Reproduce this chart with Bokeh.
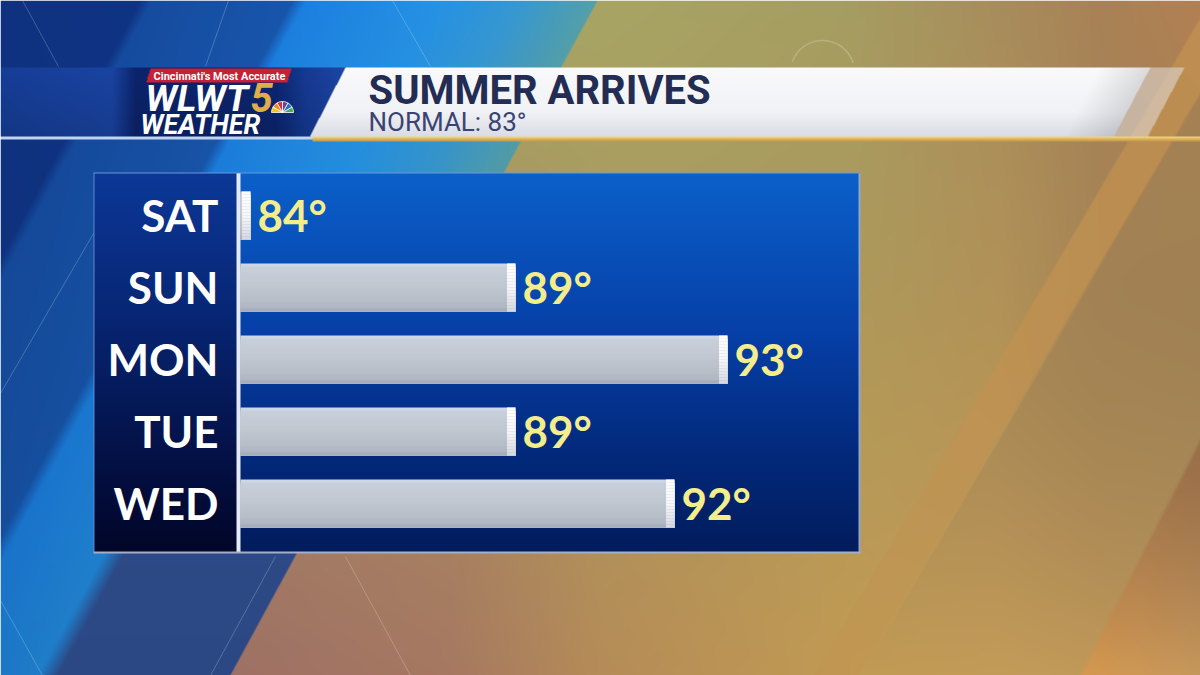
import numpy as np
from bokeh.plotting import figure
from bokeh.models import Range1d, ColumnDataSource
from bokeh.transform import dodge
from bokeh.core.properties import value
from bokeh.embed import file_html
from bokeh.resources import INLINE

# ---------------- data ----------------
days = ["SAT", "SUN", "MON", "TUE", "WED"]
highs = [84, 89, 93, 89, 92]
high_labels = ["84°", "89°", "93°", "89°", "92°"]
title = "SUMMER ARRIVES"
subtitle = "NORMAL: 83°"
tagline = "Cincinnati's Most Accurate"
brand = "WLWT"
channel = "5"
brand_sub = "WEATHER"

# ---------------- layout constants ----------------
W, H, OFF = 1200, 675, 0
REF_H = 675
BAR_BASE = 83.81          # temperature where the bar baseline sits
DEG_PX, REF_T, REF_PX = 53.0, 89.0, 515.0
ROW_PX, ROW0_PX = 72.0, 215.0


def t_of(px):
    return REF_T + (px - REF_PX) / DEG_PX


def r_of(py):
    return (py - ROW0_PX) / ROW_PX


def yd(py):
    return REF_H - py


# ---------------- background image ----------------
xs = np.arange(W) + OFF + 0.5
ys = np.arange(H) + OFF + 0.5
X, Y = np.meshgrid(xs, ys)


def stops_interp(v, stops):
    pos = np.array([s[0] for s in stops], float)
    cols = np.array([s[1] for s in stops], float)
    return np.stack([np.interp(v, pos, cols[:, c]) for c in range(3)], axis=-1)


S = X + 0.544 * Y
blue = stops_interp(S, [(-400, (14, 44, 118)), (140, (16, 52, 132)), (152, (22, 76, 160)),
                        (292, (24, 86, 172)), (306, (28, 128, 224)), (440, (38, 146, 228)),
                        (520, (55, 152, 210)), (597, (85, 160, 170))])
mute = np.clip((Y - 220) / 250, 0, 1) * np.clip((S - 405) / 20, 0, 1)
blue = blue * (1 - mute[..., None]) + np.array([50, 82, 150.0]) * mute[..., None]
blue *= (1 - 0.12 * Y / REF_H)[..., None]

gx = np.array([200, 450, 600, 850, 1000, 1100, 1200.0])
G = np.array([
    [(150, 175, 115), (152, 175, 112), (155, 175, 110), (150, 158, 105), (152, 125, 92), (152, 102, 80), (172, 100, 72)],
    [(150, 110, 110), (155, 128, 105), (160, 150, 98), (166, 150, 90), (174, 136, 84), (145, 106, 76), (136, 100, 72)],
    [(128, 66, 108), (148, 84, 100), (180, 124, 84), (206, 155, 78), (212, 158, 90), (204, 152, 90), (192, 152, 100)],
], float)
rowcols = [np.stack([np.interp(xs, gx, G[j, :, c]) for c in range(3)], -1) for j in range(3)]
wy = ys[:, None, None]
w1 = np.clip(wy / 300, 0, 1)
w2 = np.clip((wy - 300) / 375, 0, 1)
warm = np.where(wy < 300,
                rowcols[0][None] * (1 - w1) + rowcols[1][None] * w1,
                rowcols[1][None] * (1 - w2) + rowcols[2][None] * w2)
# diagonal light band with darker brown beyond it
A = np.array([1150.0, 140.0]); B = np.array([880.0, 600.0])
dvec = (B - A) / np.linalg.norm(B - A)
nvec = np.array([-dvec[1], dvec[0]])
dist = (X - A[0]) * nvec[0] + (Y - A[1]) * nvec[1]
beyond = np.clip((-dist - 20) / 2, 0, 1) * (0.6 * (1 - np.clip((Y - 380) / 300, 0, 1)))
warm = warm * (1 - beyond[..., None]) + np.array([136, 100, 74.0]) * beyond[..., None]
band = np.clip((20 - np.abs(dist)) / 2, 0, 1) * (0.75 - 0.35 * np.clip((Y - 300) / 300, 0, 1))
warm = warm * (1 - band[..., None]) + np.array([206, 136, 72.0]) * band[..., None]
# second band lower right
A2 = np.array([1200.0, 440.0]); B2 = np.array([1080.0, 675.0])
d2 = (B2 - A2) / np.linalg.norm(B2 - A2)
n2 = np.array([-d2[1], d2[0]])
dist2 = (X - A2[0]) * n2[0] + (Y - A2[1]) * n2[1]
g2 = np.clip(dist2 / 4 + 0.5, 0, 1) * 0.55
warm = warm * (1 - g2[..., None]) + np.array([172, 152, 102.0]) * g2[..., None]
# a touch more saturation
mean = warm.mean(axis=-1, keepdims=True)
warm = mean + 1.15 * (warm - mean)

wb = np.clip((S - 597) + 0.5, 0, 1)[..., None]
img = blue * (1 - wb) + warm * wb

# header: dark blue part
edge1 = 345 - (Y - 67) * 0.515
edge2 = 1150 - (Y - 67) * 0.53
inhdr = (Y >= 67) & (Y < 136.5)
hl = inhdr & (X < edge1)
hl_col = stops_interp(X, [(0, (22, 62, 152)), (112, (26, 68, 162)), (135, (12, 36, 108)),
                          (275, (12, 38, 112)), (305, (22, 58, 148)), (350, (30, 72, 168))])
hl_col *= (1 - 0.12 * np.clip((Y - 67) / 69, 0, 1))[..., None]
img[hl] = hl_col[hl]
# header: white part
hw = inhdr & (X >= edge1) & (X < edge2)
wcol = stops_interp(Y, [(67, (250, 250, 252)), (112, (241, 242, 246)), (136, (218, 221, 229))])
fade = np.clip((X - (edge2 - 50)) / 50, 0, 1)[..., None]
wcol = wcol * (1 - 0.12 * fade)
img[hw] = wcol[hw]
hs = inhdr & (X >= edge2) & (X < edge2 + 34)
img[hs] = img[hs] * 0.45 + np.array([225, 222, 222.0]) * 0.55
# red tagline banner
rr = (Y >= 68) & (Y < 82.5) & (X >= 150 - (Y - 68) * 0.3) & (X < 291 - (Y - 68) * 0.3)
img[rr] = np.array([200, 32, 52.0])
# lines under header
lb = (Y >= 136.5) & (Y < 139) & (X < 318 - (Y - 136) * 0.5)
img[lb] = np.array([192, 212, 242.0])
gl = (Y >= 136.5) & (Y < 141) & (X >= 312)
gcol = stops_interp(Y, [(136.5, (240, 212, 130)), (139, (218, 172, 82)), (141, (190, 150, 80))])
img[gl] = gcol[gl]

# chart panel
pl = (X >= 93) & (X < 236) & (Y >= 172) & (Y < 553)
plc = stops_interp(Y, [(172, (12, 56, 152)), (300, (8, 40, 120)), (450, (4, 18, 72)), (553, (2, 6, 40))])
img[pl] = plc[pl]
pr = (X >= 240) & (X < 860) & (Y >= 172) & (Y < 553)
prc = stops_interp(Y, [(172, (12, 96, 202)), (330, (6, 64, 168)), (450, (3, 42, 125)), (553, (2, 28, 92))])
img[pr] = prc[pr]
sep = (X >= 236) & (X < 240) & (Y >= 172) & (Y < 553)
img[sep] = np.array([228, 234, 246.0])
inpanel_y = (Y >= 172) & (Y < 553)
img[(X >= 93) & (X < 94.5) & inpanel_y] = np.array([95, 135, 205.0])
img[(X >= 858) & (X < 860) & inpanel_y] = np.array([145, 165, 205.0])
img[(Y >= 172) & (Y < 173.5) & (X >= 93) & (X < 860)] = np.array([105, 152, 222.0])
img[(Y >= 551) & (Y < 553) & (X >= 93) & (X < 860)] = np.array([165, 175, 200.0])

img = np.clip(img, 0, 255).astype(np.uint8)
rgba = np.empty((H, W), dtype=np.uint32)
view = rgba.view(dtype=np.uint8).reshape((H, W, 4))
view[..., :3] = img
view[..., 3] = 255
rgba = np.ascontiguousarray(rgba[::-1])

# ---------------- figure ----------------
p = figure(width=W, height=H, x_range=Range1d(OFF, OFF + W), y_range=Range1d(REF_H - OFF - H, REF_H - OFF),
           x_axis_type=None, y_axis_type=None, output_backend="svg", toolbar_location=None,
           min_border=0, tools="")
p.grid.visible = False
p.outline_line_color = None
p.background_fill_color = "white"
p.border_fill_color = "white"
p.extra_x_ranges = {"temp": Range1d(t_of(OFF), t_of(OFF + W))}
p.extra_y_ranges = {"row": Range1d(r_of(OFF + H), r_of(OFF))}

p.image_rgba(image=[rgba], x=OFF, y=REF_H - OFF - H, dw=W, dh=H)

# faint decorative lines
seg_x0 = [22, 228, 392, 93, 0, 275, 345]
seg_y0 = [0, 0, 0, 233, 600, 556, 556]
seg_x1 = [58, 205, 430, 0, 42, 210, 410]
seg_y1 = [66, 66, 66, 393, 675, 675, 675]
p.segment(x0=seg_x0, y0=[yd(v) for v in seg_y0], x1=seg_x1, y1=[yd(v) for v in seg_y1],
          line_color="white", line_alpha=0.22, line_width=1)
p.arc(x=[822], y=[yd(72)], radius=32, radius_units="screen", start_angle=0.3, end_angle=2.8,
      line_color="white", line_alpha=0.2, line_width=1.5)

# bars (each strip runs from its own top down to the bar bottom, so no seams show)
src = ColumnDataSource(dict(idx=list(range(len(days))), day=days, high=highs, label=high_labels,
                            base=[BAR_BASE] * len(days)))
N = 16
BAR_H = 0.667
bar_stops = [(0, (208, 222, 240)), (0.07, (200, 208, 219)), (0.5, (192, 199, 209)),
             (0.9, (178, 185, 196)), (1, (162, 170, 184))]
cap_stops = [(0, (255, 255, 255)), (0.5, (246, 247, 249)), (1, (214, 217, 225))]
for k in range(N):
    tk = (k + 0.5) / N
    top = -BAR_H / 2 + k * BAR_H / N
    bot = BAR_H / 2
    off = (top + bot) / 2
    hh = bot - top
    bc = stops_interp(np.array([tk]), bar_stops)[0]
    cc = stops_interp(np.array([tk]), cap_stops)[0]
    bcol = "#%02x%02x%02x" % tuple(int(v) for v in bc)
    ccol = "#%02x%02x%02x" % tuple(int(v) for v in cc)
    p.hbar(y=dodge("idx", off), left="base", right="high", height=hh, source=src,
           x_range_name="temp", y_range_name="row", fill_color=bcol, line_color=None)
    p.hbar(y=dodge("idx", off), left=dodge("high", -0.16), right="high", height=hh,
           source=src, x_range_name="temp", y_range_name="row", fill_color=ccol, line_color=None)

# value labels
p.text(x="high", y="idx", text="label", source=src, x_range_name="temp", y_range_name="row",
       x_offset=7, y_offset=-1, text_align="left", text_baseline="alphabetic",
       text_font=value("Lato"), text_font_style="bold", text_font_size="44px", text_color="#f4ed8c")
# day labels
p.text(x=218, y="idx", text="day", source=src, y_range_name="row",
       y_offset=-1, text_align="right", text_baseline="alphabetic",
       text_font=value("Lato"), text_font_style="bold", text_font_size="44px", text_color="white")

# header texts
p.text(x=[368], y=[yd(104)], text=[title], text_font=value("Roboto"), text_font_style="bold",
       text_font_size="40px", text_color="#232c52", text_baseline="alphabetic", y_offset=-14)
p.text(x=[368], y=[yd(130)], text=[subtitle], text_font=value("Roboto"), text_font_style="normal",
       text_font_size="26px", text_color="#3a4474", text_baseline="alphabetic", y_offset=-9)

# logo
p.text(x=[219], y=[yd(75.5)], text=[tagline], text_font=value("Roboto"), text_font_style="bold",
       text_font_size="11px", text_color="white", text_align="center", text_baseline="middle")
p.text(x=[145], y=[yd(111)], text=[brand], text_font=value("Roboto"), text_font_style="bold italic",
       text_font_size="37px", text_color="white", text_baseline="alphabetic", y_offset=-13)
p.text(x=[250], y=[yd(111)], text=[channel], text_font=value("Roboto"), text_font_style="bold italic",
       text_font_size="40px", text_color="#e0ae48", text_baseline="alphabetic", y_offset=-14)
p.text(x=[140], y=[yd(133)], text=[brand_sub], text_font=value("Roboto"), text_font_style="bold italic",
       text_font_size="27px", text_color="white", text_baseline="alphabetic", y_offset=-9)
pea_cols = ["#4fa84a", "#1f72c2", "#6c3f98", "#d92b3a", "#f08a24", "#f5c518"]
pea_start = [i * np.pi / 6 for i in range(6)]
pea_end = [(i + 1) * np.pi / 6 for i in range(6)]
p.wedge(x=[282] * 6, y=[yd(112)] * 6, radius=11, radius_units="screen",
        start_angle=pea_start, end_angle=pea_end, fill_color=pea_cols, line_color="white", line_width=0.8)

open("out.html", "w").write(file_html(p, INLINE))
